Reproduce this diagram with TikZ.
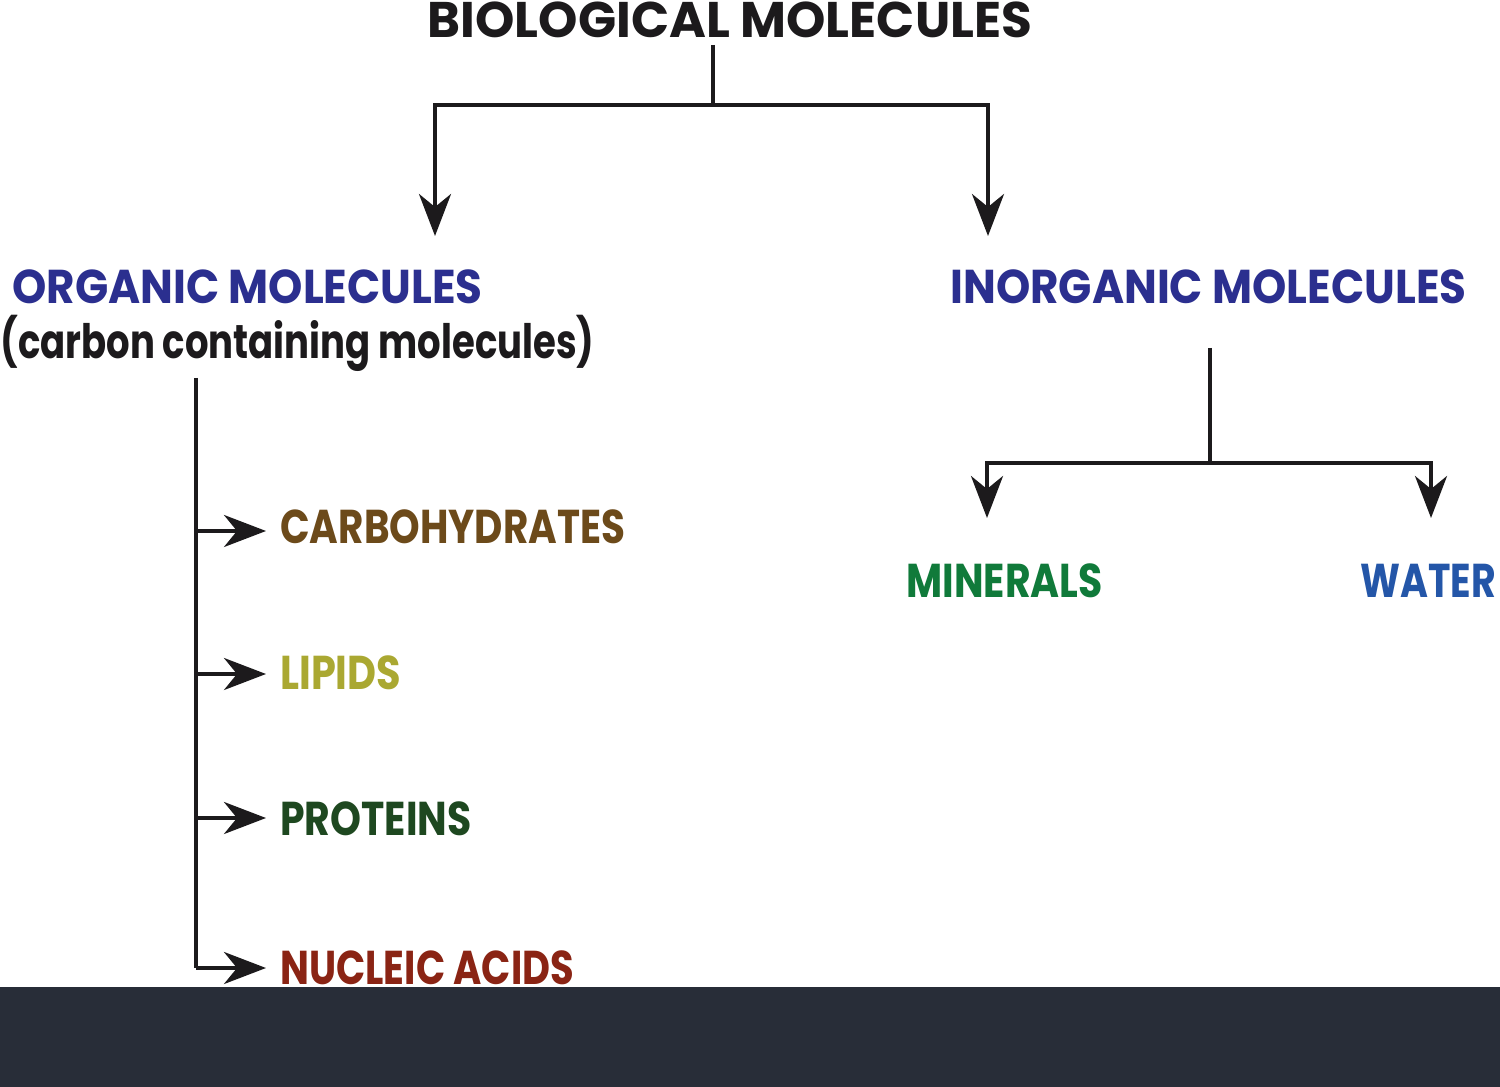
\documentclass[tikz,border=0pt]{standalone}
\usepackage{fontspec}
\setmainfont{Poppins}
\usetikzlibrary{arrows.meta}
\definecolor{titleblack}{RGB}{28,26,28}
\definecolor{orgblue}{RGB}{43,47,143}
\definecolor{carbbrown}{RGB}{108,74,26}
\definecolor{lipolive}{RGB}{170,168,50}
\definecolor{protgreen}{RGB}{30,72,32}
\definecolor{nucred}{RGB}{138,36,20}
\definecolor{mingreen}{RGB}{16,122,58}
\definecolor{watblue}{RGB}{36,86,168}
\definecolor{barcol}{RGB}{40,45,56}
\newcommand{\narrow}[2]{\scalebox{#1}[1]{#2}}
\tikzset{
    lbl/.style = {font=\fontsize{27}{30}\selectfont\bfseries, inner sep=0pt},
    conn/.style = {line width=2.2pt, titleblack},
    tip/.style = {conn, -{Stealth[length=8.4mm,width=6.4mm,inset=2.6mm]}}
}
\begin{document}
\begin{tikzpicture}[x=0.02cm,y=-0.02cm]
        \useasboundingbox (0,0) rectangle (1500,1087);
        \fill[barcol] (0,987) rectangle (1500,1087);

        \node[lbl, titleblack, font=\fontsize{28.5}{30}\selectfont\bfseries] (bio) at (730,20) {BIOLOGICAL MOLECULES};

        \node[lbl, orgblue, anchor=west] (org) at (12,287) {\narrow{0.92}{ORGANIC MOLECULES}};
        \node[lbl, titleblack, anchor=west] (orgsub) at (0,343) {\narrow{0.78}{(carbon containing molecules)}};
        \node[lbl, orgblue, anchor=west] (inorg) at (950,287) {\narrow{0.92}{INORGANIC MOLECULES}};

        \node[lbl, carbbrown, anchor=west] (carb) at (280,527) {\narrow{0.82}{CARBOHYDRATES}};
        \node[lbl, lipolive, anchor=west] (lip) at (280,673) {\narrow{0.84}{LIPIDS}};
        \node[lbl, protgreen, anchor=west] (prot) at (280,819) {\narrow{0.83}{PROTEINS}};
        \node[lbl, nucred, anchor=west] (nuc) at (280,968) {\narrow{0.81}{NUCLEIC ACIDS}};

        \node[lbl, mingreen, anchor=west] (min) at (906,581) {\narrow{0.83}{MINERALS}};
        \node[lbl, watblue, anchor=west] (wat) at (1360,581) {\narrow{0.80}{WATER}};

        % top split
        \coordinate (biotop) at (713,45);
        \coordinate (biojoin) at (713,105);
        \coordinate (orgtip) at (435,236);
        \coordinate (inorgtip) at (988,236);
        \draw[conn] (biotop) -- (biojoin);
        \draw[tip] (biojoin) -| (orgtip);
        \draw[tip] (biojoin) -| (inorgtip);

        % organic branch
        \coordinate (orgtop) at (196,378);
        \coordinate (carbjoin) at (196,531);
        \coordinate (lipjoin) at (196,674);
        \coordinate (protjoin) at (196,818);
        \coordinate (nucjoin) at (196,968);
        \draw[conn] (orgtop) -- (nucjoin);
        \draw[tip] (carbjoin) -- (266,531);
        \draw[tip] (lipjoin) -- (266,674);
        \draw[tip] (protjoin) -- (266,818);
        \draw[tip] (nucjoin) -- (266,968);

        % inorganic branch
        \coordinate (inorgtop) at (1210,348);
        \coordinate (inorgjoin) at (1210,463);
        \coordinate (mintip) at (987,518);
        \coordinate (wattip) at (1431,518);
        \draw[conn] (inorgtop) -- (inorgjoin);
        \draw[tip] (inorgjoin) -| (mintip);
        \draw[tip] (inorgjoin) -| (wattip);
    \end{tikzpicture}
\end{document}
